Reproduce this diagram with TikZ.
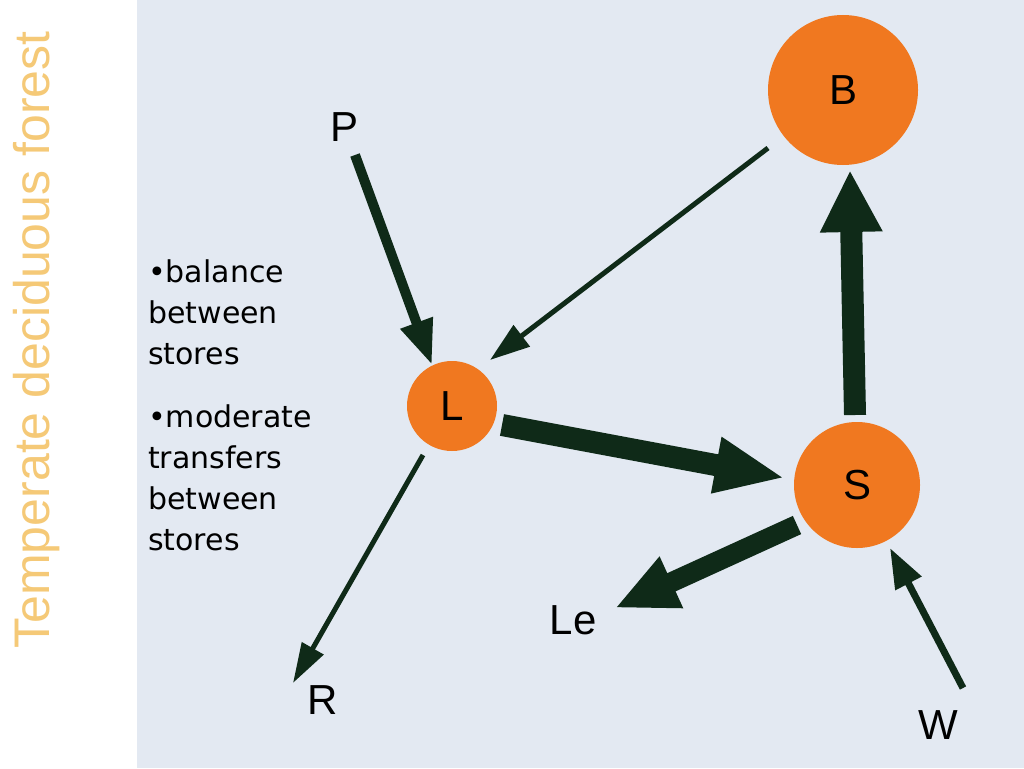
\documentclass[tikz,border=0pt]{standalone}
\usepackage{fontspec}
\setmainfont{Liberation Sans}
\newfontfamily\vfont{DejaVu Sans}
\usetikzlibrary{arrows.meta}
\definecolor{bg}{HTML}{E3E9F2}
\definecolor{org}{HTML}{F07820}
\definecolor{arr}{HTML}{0F2A18}
\definecolor{title}{HTML}{F5C977}
\tikzset{
  store/.style={circle,fill=org,inner sep=0pt,font=\fontsize{42}{42}\selectfont},
  lbl/.style={font=\fontsize{42}{42}\selectfont},
  flow/.style={draw=arr,line width=#1},
  note/.style={font=\vfont\fontsize{30}{41}\selectfont,align=left,anchor=north west,inner sep=0pt}
}
\begin{document}
\begin{tikzpicture}[x=1pt,y=-1pt]
\useasboundingbox (0,0) rectangle (1024,768);
\fill[white] (0,0) rectangle (1024,768);
\fill[bg] (137,0) rectangle (1024,768);
\node[rotate=90,text=title,font=\fontsize{50}{50}\selectfont] (t) at (37,340) {Temperate deciduous forest};
\node[store,minimum size=150pt] (B) at (843,90) {B};
\node[store,minimum size=90pt] (L) at (452,406) {L};
\node[store,minimum size=126pt] (S) at (857,485) {S};
\node[lbl] (P) at (345,127) {P};
\node[lbl] (R) at (323,700) {R};
\node[lbl] (Le) at (573,620) {Le};
\node[lbl] (W) at (938,725) {W};
\node[note] (n1) at (148,260) {•balance\\between\\stores};
\node[note] (n2) at (148,404) {•moderate\\transfers\\between\\stores};
\coordinate (p0) at (355,155); \coordinate (p1) at (432,365);
\coordinate (b0) at (768,148); \coordinate (b1) at (490,360);
\coordinate (l0) at (502,425); \coordinate (l1) at (785,478);
\coordinate (s0) at (855,415); \coordinate (s1) at (850,170);
\coordinate (e0) at (797,525); \coordinate (e1) at (615,608);
\coordinate (r0) at (423,455); \coordinate (r1) at (293,683);
\coordinate (w0) at (963,688); \coordinate (w1) at (890,548);
\draw[flow=10pt,-{Triangle[length=45pt,width=32pt]}] (p0) -- (p1);
\draw[flow=5pt,-{Triangle[length=40pt,width=26pt]}] (b0) -- (b1);
\draw[flow=22pt,-{Triangle[length=70pt,width=52pt]}] (l0) -- (l1);
\draw[flow=22pt,-{Triangle[length=62pt,width=58pt]}] (s0) -- (s1);
\draw[flow=20pt,-{Triangle[length=62pt,width=52pt]}] (e0) -- (e1);
\draw[flow=5pt,-{Triangle[length=40pt,width=24pt]}] (r0) -- (r1);
\draw[flow=7pt,-{Triangle[length=40pt,width=28pt]}] (w0) -- (w1);
\end{tikzpicture}
\end{document}
